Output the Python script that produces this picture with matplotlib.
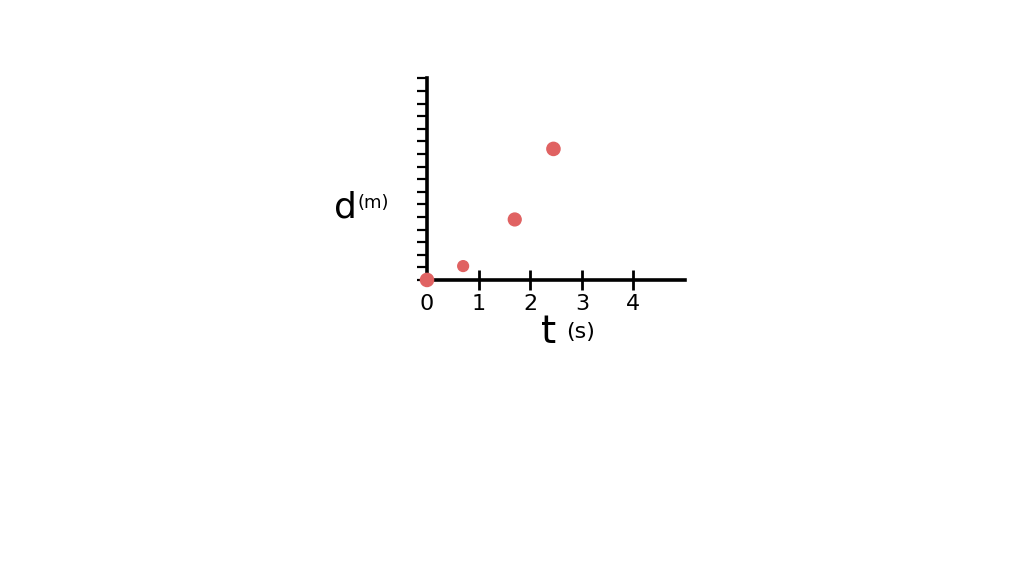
import numpy as np
import matplotlib.pyplot as plt

# punti misurati: tempo (s) e distanza (m)
t_vals = [0, 0.7, 1.7, 2.45]
d_vals = [0, 1.1, 4.8, 10.4]
x_ticks = [0, 1, 2, 3, 4]
x_labels = ["0", "1", "2", "3", "4"]
y_ticks = list(range(0, 17))

fig = plt.figure(figsize=(10.24, 5.76), dpi=100)
ax = fig.add_axes([0.417, 0.514, 0.252, 0.35])

ax.scatter(t_vals, d_vals, s=[90, 60, 85, 90], color="#e06262", zorder=3, clip_on=False)

ax.set_xlim(0, 5)
ax.set_ylim(0, 16)

for s in ["top", "right"]:
    ax.spines[s].set_visible(False)
for s in ["left", "bottom"]:
    ax.spines[s].set_linewidth(2.6)
    ax.spines[s].set_color("black")

ax.set_xticks(x_ticks)
ax.set_xticklabels(x_labels, fontsize=16)
ax.tick_params(axis="x", direction="inout", length=14, width=2, pad=3)
ax.set_yticks(y_ticks)
ax.set_yticklabels([])
ax.tick_params(axis="y", direction="out", length=7, width=1.6)
# niente tacca sullo zero dell'asse x
ax.xaxis.get_major_ticks()[0].tick1line.set_visible(False)

ax.text(0.44, -0.26, "t", fontsize=28, transform=ax.transAxes, ha="left", va="center")
ax.text(0.54, -0.26, "(s)", fontsize=16, transform=ax.transAxes, ha="left", va="center")
ax.text(-0.36, 0.36, "d", fontsize=26, transform=ax.transAxes, ha="left", va="center")
ax.text(-0.27, 0.38, "(m)", fontsize=13, transform=ax.transAxes, ha="left", va="center")

fig.savefig("out.png", dpi=100)
